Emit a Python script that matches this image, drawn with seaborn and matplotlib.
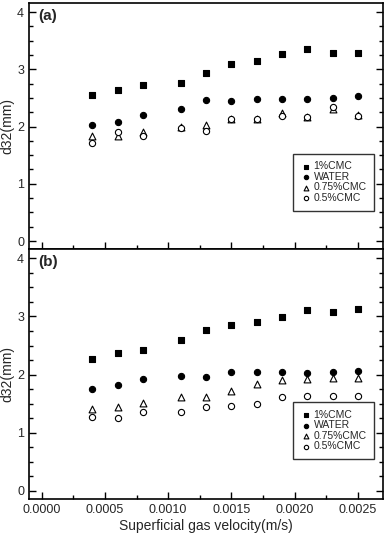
import matplotlib
matplotlib.use("Agg")
import matplotlib.pyplot as plt
import seaborn as sns
from matplotlib.ticker import MultipleLocator, FormatStrFormatter

# superficial gas velocity (m/s)
velocity = [0.0004, 0.0006, 0.0008, 0.0011, 0.0013, 0.0015,
            0.0017, 0.0019, 0.0021, 0.0023, 0.0025]

series_names = ["1%CMC", "WATER", "0.75%CMC", "0.5%CMC"]

# panel (a)
a_cmc1 = [2.55, 2.64, 2.72, 2.77, 2.93, 3.10, 3.15, 3.27, 3.35, 3.29, 3.28]
a_water = [2.03, 2.08, 2.20, 2.31, 2.46, 2.44, 2.49, 2.49, 2.49, 2.50, 2.53]
a_cmc075 = [1.83, 1.83, 1.90, 1.99, 2.02, 2.14, 2.14, 2.24, 2.17, 2.31, 2.20]
a_cmc05 = [1.71, 1.90, 1.83, 1.98, 1.93, 2.14, 2.13, 2.19, 2.17, 2.35, 2.19]

# panel (b)
b_cmc1 = [2.26, 2.37, 2.43, 2.59, 2.77, 2.85, 2.90, 2.99, 3.11, 3.08, 3.12]
b_water = [1.75, 1.82, 1.93, 1.97, 1.96, 2.05, 2.04, 2.05, 2.03, 2.05, 2.07]
b_cmc075 = [1.41, 1.45, 1.52, 1.62, 1.62, 1.72, 1.84, 1.91, 1.92, 1.94, 1.95]
b_cmc05 = [1.27, 1.25, 1.35, 1.35, 1.45, 1.46, 1.50, 1.62, 1.63, 1.63, 1.64]

# marker, face colour, size
styles = {
    "1%CMC": ("s", "black", 16),
    "WATER": ("o", "black", 20),
    "0.75%CMC": ("^", "white", 24),
    "0.5%CMC": ("o", "white", 20),
}

sns.set_style("ticks")
plt.rcParams["font.family"] = ["Liberation Sans", "DejaVu Sans"]


def draw_panel(ax, values, tag, show_xticklabels):
    for name, ys in zip(series_names, values):
        marker, face, size = styles[name]
        sns.scatterplot(x=velocity, y=ys, ax=ax, marker=marker, color=face,
                        edgecolor="black", linewidth=0.8, s=size, label=name)
    ax.set_xlim(-0.0001, 0.0027)
    ax.set_ylim(-0.14, 4.16)
    ax.xaxis.set_major_locator(MultipleLocator(0.0005))
    ax.xaxis.set_minor_locator(MultipleLocator(0.00025))
    ax.xaxis.set_major_formatter(FormatStrFormatter("%.4f"))
    ax.yaxis.set_major_locator(MultipleLocator(1))
    ax.yaxis.set_minor_locator(MultipleLocator(0.25))
    ax.tick_params(which="both", direction="in", top=False, right=True,
                   labelsize=9, width=1, color="black")
    ax.tick_params(which="major", length=5)
    ax.tick_params(which="minor", length=3)
    if not show_xticklabels:
        ax.tick_params(axis="x", labelbottom=False)
    for sp in ax.spines.values():
        sp.set_visible(True)
        sp.set_linewidth(1.2)
        sp.set_color("black")
    ax.set_ylabel("d32(mm)", fontsize=10, labelpad=2)
    ax.text(0.025, 0.975, tag, transform=ax.transAxes, ha="left", va="top",
            fontsize=11, fontweight="bold")
    leg = ax.legend(loc="upper left", bbox_to_anchor=(0.746, 0.388),
                    frameon=True, fancybox=False, fontsize=7.5,
                    markerscale=0.7, handletextpad=0.3, borderpad=0.75,
                    labelspacing=0.05, handlelength=0.9, borderaxespad=0)
    leg.get_frame().set_edgecolor("black")
    leg.get_frame().set_linewidth(1)


fig = plt.figure(figsize=(3.87, 5.36), dpi=100)
ax_a = fig.add_axes([0.075, 0.5354, 0.915, 0.4590])
ax_b = fig.add_axes([0.075, 0.0690, 0.915, 0.4664])

draw_panel(ax_a, [a_cmc1, a_water, a_cmc075, a_cmc05], "(a)", False)
draw_panel(ax_b, [b_cmc1, b_water, b_cmc075, b_cmc05], "(b)", True)
ax_a.set_xlabel("")
ax_b.set_xlabel("Superficial gas velocity(m/s)", fontsize=10, labelpad=2)

fig.savefig("out.png", dpi=100)
